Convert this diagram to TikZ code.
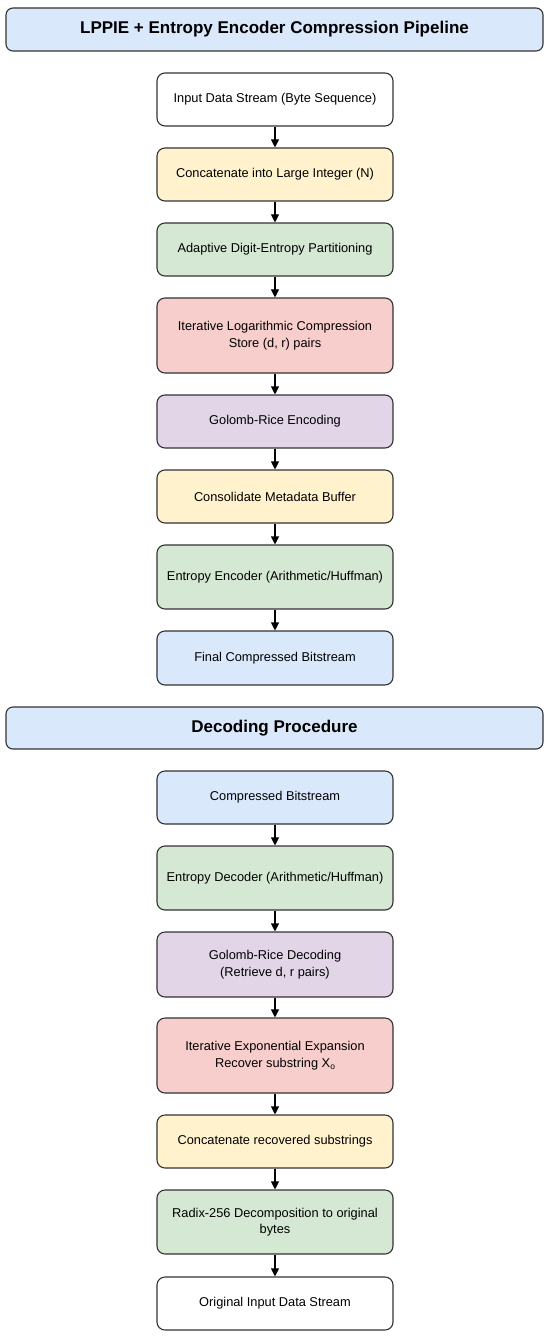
\documentclass[tikz,border=0pt]{standalone}
\usepackage{fontspec}
\setmainfont{Liberation Sans}
\usetikzlibrary{arrows.meta}
\definecolor{strk}{HTML}{333333}
\definecolor{cblue}{HTML}{DAE8FC}
\definecolor{cyellow}{HTML}{FFF2CC}
\definecolor{cgreen}{HTML}{D5E8D4}
\definecolor{cred}{HTML}{F8CECC}
\definecolor{cpurple}{HTML}{E1D5E7}
\begin{document}
\begin{tikzpicture}[x=1pt,y=-1pt,
  stepbox/.style={draw=strk, line width=1.1pt, rounded corners=8pt, minimum width=236pt, inner sep=0pt, align=center, font=\fontsize{12.8}{16.5}\selectfont},
  titlebox/.style={draw=strk, line width=1.1pt, rounded corners=7pt, minimum width=537pt, inner sep=0pt, fill=cblue, font=\fontsize{17}{20}\selectfont\bfseries},
  arr/.style={-{Triangle[length=8pt,width=8pt]}, line width=1.1pt, black}]
\useasboundingbox (0,0) rectangle (550,1337);
\fill[white] (0,0) rectangle (550,1337);
\node[titlebox, minimum height=43pt] (t1) at (274.5,29.5) {LPPIE + Entropy Encoder Compression Pipeline};
\node[stepbox, fill=white, minimum height=53pt] (b1) at (275,99.5) {Input Data Stream (Byte Sequence)};
\node[stepbox, fill=cyellow, minimum height=53pt] (b2) at (275,174.5) {Concatenate into Large Integer (N)};
\node[stepbox, fill=cgreen, minimum height=53pt] (b3) at (275,249.5) {Adaptive Digit-Entropy Partitioning};
\node[stepbox, fill=cred, minimum height=75pt] (b4) at (275,335.5) {Iterative Logarithmic Compression\\Store (d, r) pairs};
\node[stepbox, fill=cpurple, minimum height=53pt] (b5) at (275,421.5) {Golomb-Rice Encoding};
\node[stepbox, fill=cyellow, minimum height=53pt] (b6) at (275,496.5) {Consolidate Metadata Buffer};
\node[stepbox, fill=cgreen, minimum height=64pt] (b7) at (275,577) {Entropy Encoder (Arithmetic/Huffman)};
\node[stepbox, fill=cblue, minimum height=54pt] (b8) at (275,658) {Final Compressed Bitstream};
\node[titlebox, minimum height=42pt] (t2) at (274.5,728) {Decoding Procedure};
\node[stepbox, fill=cblue, minimum height=53pt] (d1) at (275,797.5) {Compressed Bitstream};
\node[stepbox, fill=cgreen, minimum height=64pt] (d2) at (275,878) {Entropy Decoder (Arithmetic/Huffman)};
\node[stepbox, fill=cpurple, minimum height=65pt] (d3) at (275,964.5) {Golomb-Rice Decoding\\(Retrieve d, r pairs)};
\node[stepbox, fill=cred, minimum height=75pt] (d4) at (275,1055.5) {Iterative Exponential Expansion\\Recover substring X\raisebox{-0.35ex}{\fontsize{8.5}{9}\selectfont o}};
\node[stepbox, fill=cyellow, minimum height=53pt] (d5) at (275,1141.5) {Concatenate recovered substrings};
\node[stepbox, fill=cgreen, minimum height=64pt] (d6) at (275,1222) {Radix-256 Decomposition to original\\bytes};
\node[stepbox, fill=white, minimum height=53pt] (d7) at (275,1303.5) {Original Input Data Stream};
\foreach \a/\b in {b1/b2,b2/b3,b3/b4,b4/b5,b5/b6,b6/b7,b7/b8,d1/d2,d2/d3,d3/d4,d4/d5,d5/d6,d6/d7}
  \draw[arr] (\a.south) -- (\b.north);
\end{tikzpicture}
\end{document}
